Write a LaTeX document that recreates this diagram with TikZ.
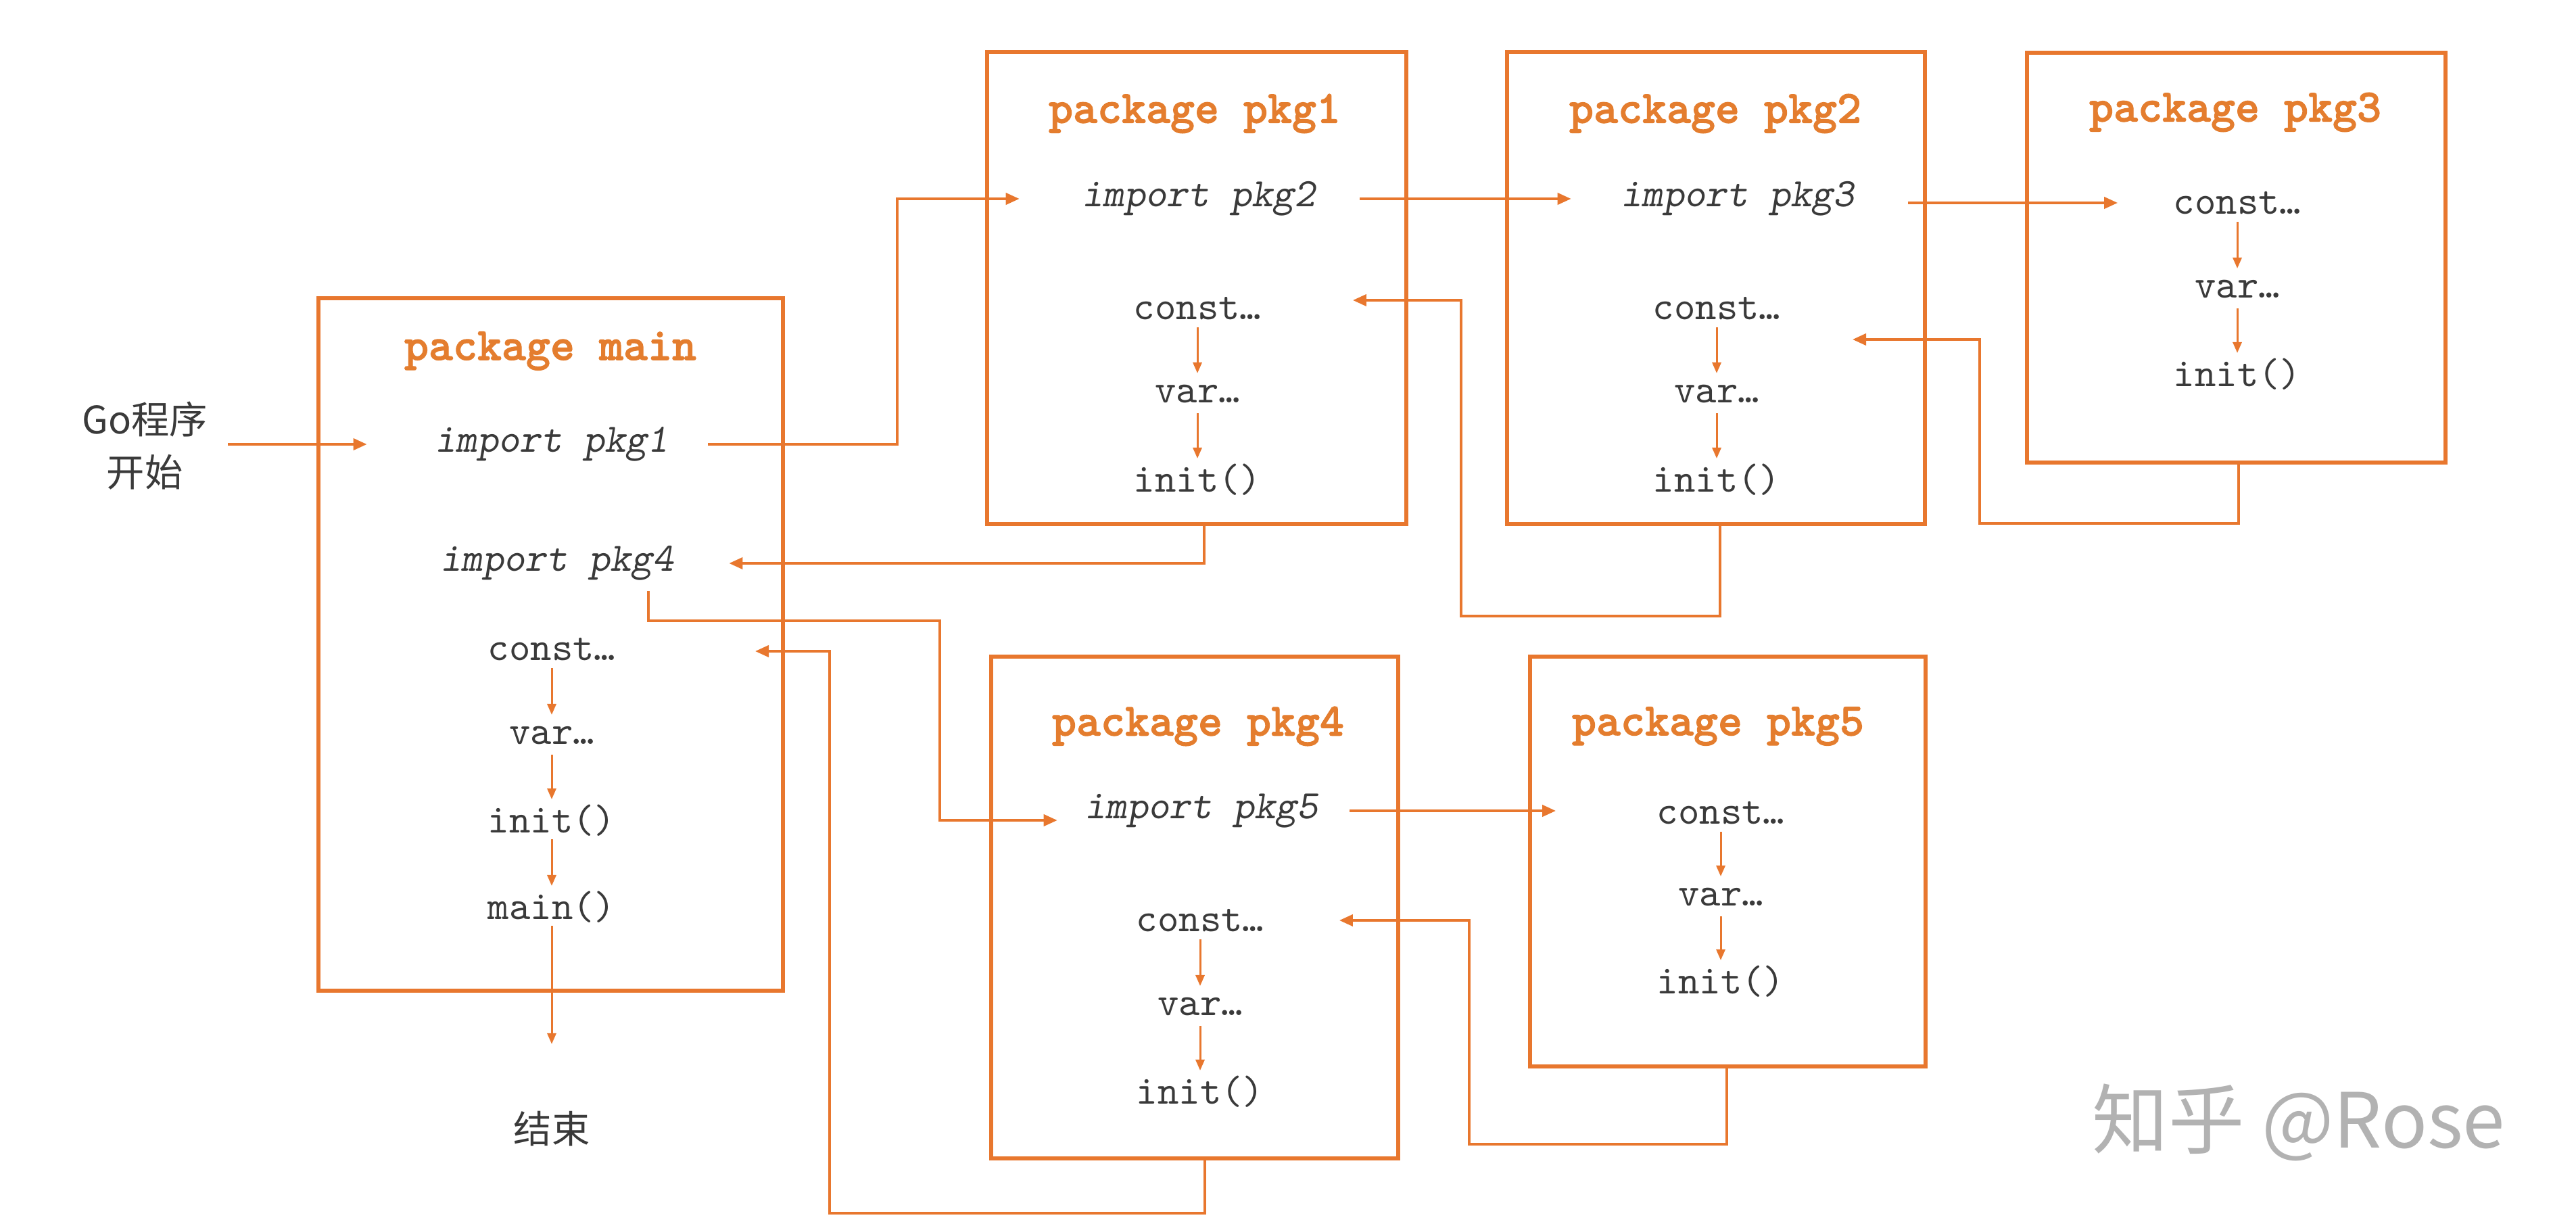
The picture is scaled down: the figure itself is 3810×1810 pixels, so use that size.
\documentclass[tikz,border=0pt]{standalone}
\usepackage{fontspec}
\newfontfamily\itemfont{lmmono10-regular.otf}[ItalicFont=lmmonoslant10-regular.otf]
\newfontfamily\titlefont{lmmonolt10-bold.otf}[FakeBold=1.6]
\newfontfamily\cjkfont{Noto Sans CJK SC}
\usetikzlibrary{arrows.meta}
\definecolor{og}{HTML}{E8772E}
\definecolor{ogt}{HTML}{E47D2E}
\definecolor{tx}{HTML}{3A3A3A}
\begin{document}
\begin{tikzpicture}[x=0.01cm, y=-0.01cm,
  pkgbox/.style={draw=og, line width=1.7pt, inner sep=0pt},
  title/.style={font=\titlefont\fontsize{19.5}{22}\selectfont, text=ogt, inner sep=0pt},
  item/.style={font=\itemfont\fontsize{17}{20}\selectfont, text=tx, inner sep=0pt},
  imp/.style={font=\itemfont\fontsize{17}{20}\selectfont\itshape, text=tx, inner sep=0pt},
  cjk/.style={font=\cjkfont\fontsize{16}{22}\selectfont, text=tx, inner sep=0pt},
  conn/.style={draw=og, line width=1.1pt, -{Triangle[length=0.2cm,width=0.17cm]}},
  flow/.style={draw=og, line width=0.85pt, -{Triangle[length=0.16cm,width=0.13cm]}, shorten <=0.28cm, shorten >=0.31cm}]
\useasboundingbox[fill=white] (0,0) rectangle (3810,1810);

% boxes
\node[pkgbox, minimum width=6.87cm, minimum height=10.24cm] (main) at (814.5,953) {};
\node[pkgbox, minimum width=6.20cm, minimum height=6.98cm] (pkg1) at (1770,426) {};
\node[pkgbox, minimum width=6.18cm, minimum height=6.98cm] (pkg2) at (2538,426) {};
\node[pkgbox, minimum width=6.19cm, minimum height=6.06cm] (pkg3) at (3307.5,381) {};
\node[pkgbox, minimum width=6.02cm, minimum height=7.42cm] (pkg4) at (1767,1342) {};
\node[pkgbox, minimum width=5.85cm, minimum height=6.06cm] (pkg5) at (2555.5,1274) {};

% titles
\node[title] (tmain) at (814,519) {package main};
\node[title] (tp1) at (1767,168) {package pkg1};
\node[title] (tp2) at (2537,168) {package pkg2};
\node[title] (tp3) at (3306,166) {package pkg3};
\node[title] (tp4) at (1772,1074) {package pkg4};
\node[title] (tp5) at (2541,1074) {package pkg5};

% start / end
\node[cjk, align=center] (start) at (214,659) {Go程序\\开始};
\node[cjk] (fin) at (816,1669) {结束};

% main items
\node[imp] (mimp1) at (816,657) {import pkg1};
\node[imp] (mimp4) at (824,833) {import pkg4};
\node[item] (mconst) at (816,960) {const…};
\node[item] (mvar) at (816,1088) {var…};
\node[item] (minit) at (816,1213) {init()};
\node[item] (mmain) at (816,1341) {main()};

% pkg1 items
\node[imp] (p1imp2) at (1773,294) {import pkg2};
\node[item] (p1const) at (1771,456) {const…};
\node[item] (p1var) at (1771,583) {var…};
\node[item] (p1init) at (1771,709) {init()};

% pkg2 items
\node[imp] (p2imp3) at (2570,294) {import pkg3};
\node[item] (p2const) at (2539,456) {const…};
\node[item] (p2var) at (2539,583) {var…};
\node[item] (p2init) at (2539,709) {init()};

% pkg3 items
\node[item] (p3const) at (3309,300) {const…};
\node[item] (p3var) at (3309,428) {var…};
\node[item] (p3init) at (3309,553) {init()};

% pkg4 items
\node[imp] (p4imp5) at (1777,1199) {import pkg5};
\node[item] (p4const) at (1775,1361) {const…};
\node[item] (p4var) at (1775,1489) {var…};
\node[item] (p4init) at (1775,1614) {init()};

% pkg5 items
\node[item] (p5const) at (2545,1202) {const…};
\node[item] (p5var) at (2545,1327) {var…};
\node[item] (p5init) at (2545,1451) {init()};

% watermark
\node[font=\cjkfont\fontsize{32}{36}\selectfont, text=black!30, inner sep=0pt] (wm) at (3400,1660) {知乎 @Rose};

% flow arrows inside boxes
\draw[flow] (mconst.center) -- (mvar.center);
\draw[flow] (mvar.center) -- (minit.center);
\draw[flow] (minit.center) -- (mmain.center);
\draw[flow, shorten >=1.25cm] (mmain.center) -- (fin.center);
\draw[flow] (p1const.center) -- (p1var.center);
\draw[flow] (p1var.center) -- (p1init.center);
\draw[flow] (p2const.center) -- (p2var.center);
\draw[flow] (p2var.center) -- (p2init.center);
\draw[flow] (p3const.center) -- (p3var.center);
\draw[flow] (p3var.center) -- (p3init.center);
\draw[flow] (p4const.center) -- (p4var.center);
\draw[flow] (p4var.center) -- (p4init.center);
\draw[flow] (p5const.center) -- (p5var.center);
\draw[flow] (p5var.center) -- (p5init.center);

% connectors
\coordinate (p2in) at (2740,502);
\draw[conn, shorten <=0.3cm, shorten >=1cm] (start.east |- mimp1.west) -- (mimp1.west);
\draw[conn, shorten <=0.58cm, shorten >=0.92cm] (mimp1.east) -- (1327,657) |- (p1imp2.west);
\draw[conn, shorten <=0.65cm, shorten >=0.73cm] (p1imp2.east) -- (p2imp3.west);
\draw[conn, shorten <=0.79cm, shorten >=0.82cm] (p2imp3.east |- p3const.west) -- (p3const.west);
\draw[conn] ([xshift=0.035cm]pkg3.south) |- (2928,774) |- (p2in);
\draw[conn, shorten >=1.35cm] ([xshift=0.06cm]pkg2.south) |- (2161,911) |- ([yshift=0.12cm]p1const.east);
\draw[conn, shorten >=0.81cm] ([xshift=0.11cm]pkg1.south) |- (mimp4.east);
\draw[conn, shorten <=0.15cm, shorten >=0.4cm] ([xshift=1.35cm]mimp4.south) |- (1390,918) |- ([yshift=-0.14cm]p4imp5.west);
\draw[conn, shorten <=0.46cm, shorten >=1.49cm] (p4imp5.east) -- (p4imp5.east -| p5const.west);
\draw[conn, shorten >=1.11cm] ([xshift=-0.015cm]pkg5.south) |- (2173,1692) |- (p4const.east);
\draw[conn, shorten >=2.06cm] ([xshift=0.15cm]pkg4.south) |- (1227,1794) |- ([yshift=-0.03cm]mconst.east);
\end{tikzpicture}
\end{document}
